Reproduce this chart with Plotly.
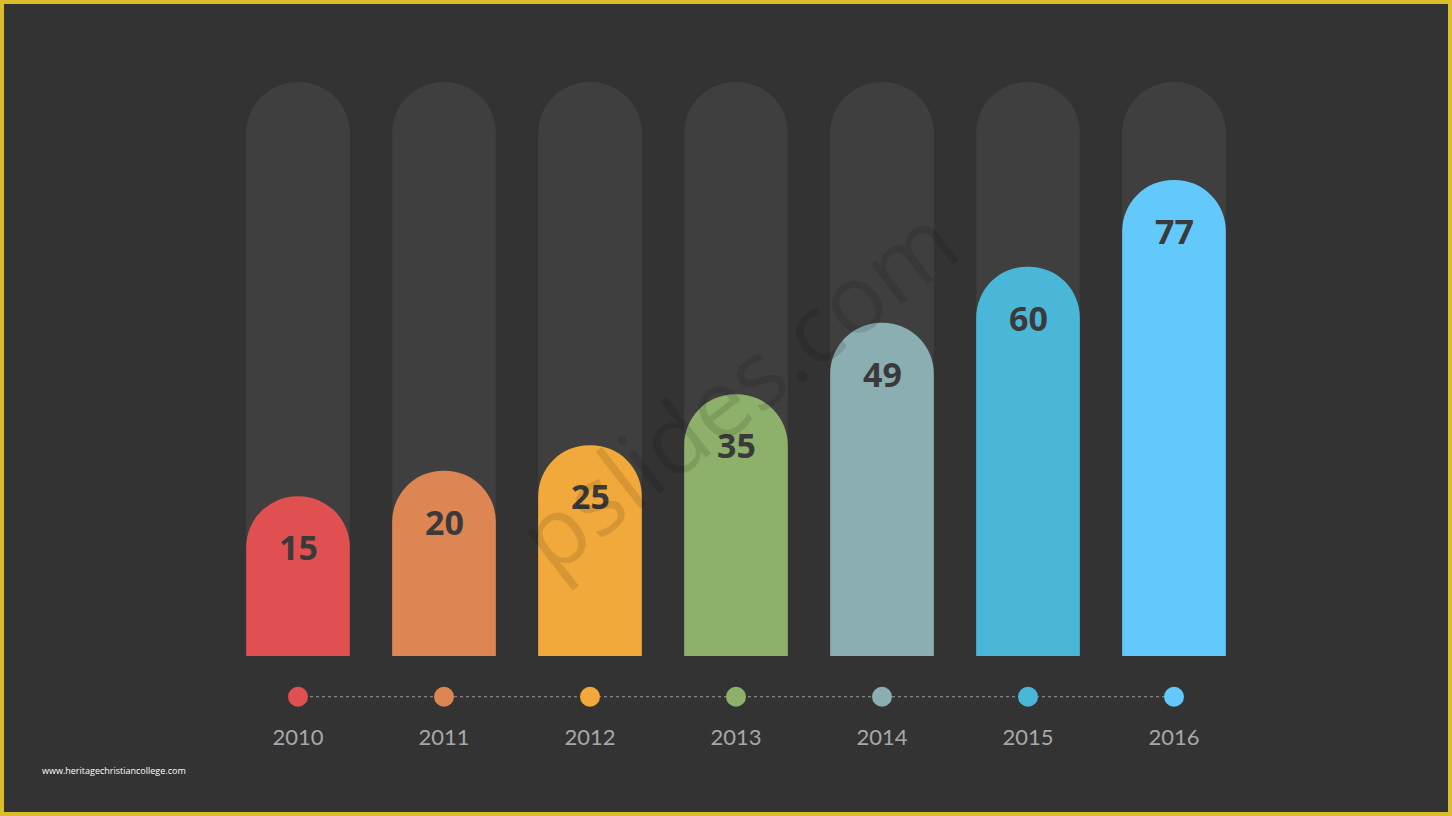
import plotly.graph_objects as go

years = ["2010", "2011", "2012", "2013", "2014", "2015", "2016"]
values = [15, 20, 25, 35, 49, 60, 77]
colors = ["#e05050", "#dd8653", "#f2a93b", "#8db06a", "#8aaeb2", "#4bb7d8", "#63c8fa"]

offset = 16.3      # the bar floor sits this many units below the value zero
track_top = 112.5  # height of the grey background tracks (axis units)
dot_y = -8.0
label_y = -16.3

fig = go.Figure()

# grey tracks
fig.add_trace(go.Bar(
    x=years, y=[track_top] * len(years),
    marker=dict(color="#3f3f3f", line=dict(width=0), cornerradius=52),
    hoverinfo="skip", showlegend=False,
))
# value bars on an overlaying x axis so they draw above the tracks with round tops
fig.add_trace(go.Bar(
    x=years, y=[v + offset for v in values], xaxis="x2",
    marker=dict(color=colors, line=dict(width=0), cornerradius=52),
    customdata=values, hovertemplate="%{x}: %{customdata}<extra></extra>",
    showlegend=False,
))
# timeline
fig.add_trace(go.Scatter(
    x=years, y=[dot_y] * len(years), mode="lines+markers",
    line=dict(color="#9a9a9a", width=1, dash="dot"),
    marker=dict(color=colors, size=20),
    hoverinfo="skip", showlegend=False,
))
fig.add_trace(go.Scatter(
    x=years, y=[label_y] * len(years), mode="text", text=years,
    textfont=dict(family="Lato", size=22, color="#a8a8a8"),
    hoverinfo="skip", showlegend=False,
))

annotations = []
for i, v in enumerate(values):
    annotations.append(dict(
        x=i, y=v + offset - 10, xref="x", yref="y", text="<b>%d</b>" % v,
        showarrow=False,
        font=dict(family="Open Sans", size=34, color="#3a3a3a"),
    ))
annotations.append(dict(
    x=0.5, y=0.55, xref="paper", yref="paper", text="pslides.com",
    showarrow=False, textangle=-38,
    font=dict(family="Open Sans", size=95, color="rgba(0,0,0,0.11)"),
))
annotations.append(dict(
    x=-(225 - 40) / 1022, y=-(770 - 760) / 678, xref="paper", yref="paper",
    text="www.heritagechristiancollege.com", showarrow=False,
    xanchor="left", yanchor="middle",
    font=dict(family="Open Sans", size=9, color="#ffffff"),
))

fig.update_layout(
    width=1452, height=816,
    paper_bgcolor="#333333", plot_bgcolor="#333333",
    margin=dict(l=225, r=205, t=82, b=56),
    barmode="overlay", bargap=0.29,
    xaxis=dict(visible=False, type="category", range=[-0.5, 6.5]),
    xaxis2=dict(visible=False, type="category", range=[-0.5, 6.5],
                overlaying="x", matches="x"),
    yaxis=dict(visible=False, range=[-20.4, track_top]),
    annotations=annotations,
    shapes=[dict(type="rect", xref="paper", yref="paper",
                 x0=-223 / 1022, x1=1 + 203 / 1022, y0=-54 / 678, y1=1 + 80 / 678,
                 line=dict(color="#d9bd2a", width=4))],
)

fig.write_html("out.html", config={"displayModeBar": False},
               post_script="document.body.style.margin='0';")
